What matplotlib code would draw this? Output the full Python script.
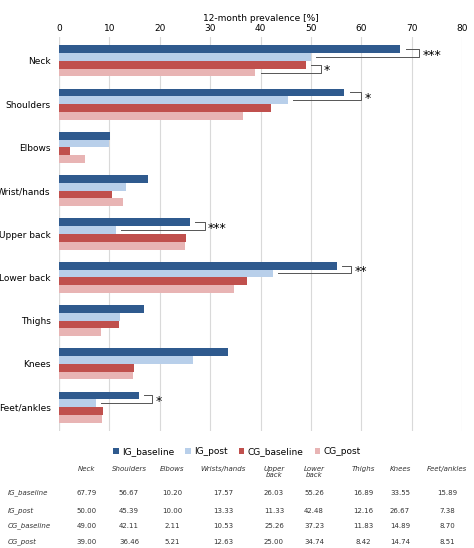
import numpy as np
import matplotlib
matplotlib.use("Agg")
import matplotlib.pyplot as plt

regions = ["Neck", "Shoulders", "Elbows", "Wrist/hands", "Upper back",
           "Lower back", "Thighs", "Knees", "Feet/ankles"]
table_cols = ["Neck", "Shoulders", "Elbows", "Wrists/hands", "Upper\nback",
              "Lower\nback", "Thighs", "Knees", "Feet/ankles"]
series = ["IG_baseline", "IG_post", "CG_baseline", "CG_post"]
ig_base = [67.79, 56.67, 10.20, 17.57, 26.03, 55.26, 16.89, 33.55, 15.89]
ig_post = [50.00, 45.39, 10.00, 13.33, 11.33, 42.48, 12.16, 26.67, 7.38]
cg_base = [49.00, 42.11, 2.11, 10.53, 25.26, 37.23, 11.83, 14.89, 8.70]
cg_post = [39.00, 36.46, 5.21, 12.63, 25.00, 34.74, 8.42, 14.74, 8.51]
values = [ig_base, ig_post, cg_base, cg_post]
colors = ["#2F5A8E", "#B8CFEA", "#C0504D", "#E8B4B4"]

# (region index, upper series, lower series, bracket x, stars)
sig = [(0, 0, 1, 71.5, "***"), (0, 2, 3, 52.0, "*"), (1, 0, 1, 60.0, "*"),
       (4, 0, 1, 29.0, "***"), (5, 0, 1, 58.0, "**"), (8, 0, 1, 18.5, "*")]

fig = plt.figure(figsize=(4.74, 5.48), dpi=100)
ax = fig.add_axes([59/474, 1-431/548, (462-59)/474, (431-37)/548])

h = 0.18
y = np.arange(len(regions))
for i, (vals, c, s) in enumerate(zip(values, colors, series)):
    ax.barh(y + (i - 1.5) * h, vals, height=h, color=c, label=s, zorder=2)

for r, a, b, xb, stars in sig:
    ya = r + (a - 1.5) * h
    yb = r + (b - 1.5) * h
    xa = values[a][r] + 1.0
    xbb = values[b][r] + 1.0
    ax.plot([xa, xb, xb, xbb], [ya, ya, yb, yb], color="#555555", lw=0.7, zorder=3)
    ax.text(xb + 0.6, (ya + yb) / 2 + 0.05, stars, va="center", ha="left", fontsize=9, zorder=3)

ax.set_xlim(0, 80)
ax.set_ylim(len(regions) - 0.45, -0.55)
ax.set_yticks(y)
ax.set_yticklabels(regions, fontsize=6.5)
ax.set_xticks(range(0, 81, 10))
ax.xaxis.tick_top()
ax.xaxis.set_label_position("top")
ax.set_xlabel("12-month prevalence [%]", fontsize=6.5, labelpad=2)
ax.tick_params(axis="x", labelsize=6.5, length=0, pad=3)
ax.tick_params(axis="y", length=0, pad=6)
ax.grid(axis="x", color="#D9D9D9", lw=0.8, zorder=0)
for sp in ax.spines.values():
    sp.set_visible(False)
ax.axvline(0, color="#BFBFBF", lw=0.8, zorder=1)

fig.legend(loc="center", bbox_to_anchor=(0.5, 1-452/548), ncol=4, frameon=False,
           fontsize=6.5, handlelength=0.6, handleheight=0.6, handletextpad=0.4,
           columnspacing=1.2)

# data table
col_x = [87, 129, 172, 223, 274, 314, 363, 400, 447]
row_y = [493, 511, 526, 542]
tk = dict(fontsize=5, style="italic", color="#333333")
for cx, lab in zip(col_x, table_cols):
    fig.text(cx/474, 1-466/548, lab, ha="center", va="top", linespacing=1.0, **tk)
for ry, s, vals in zip(row_y, series, values):
    fig.text(8/474, 1-ry/548, s, ha="left", va="center", **tk)
    for cx, v in zip(col_x, vals):
        fig.text(cx/474, 1-ry/548, f"{v:.2f}", ha="center", va="center",
                 fontsize=5, color="#333333")

fig.savefig("out.png", dpi=100)
